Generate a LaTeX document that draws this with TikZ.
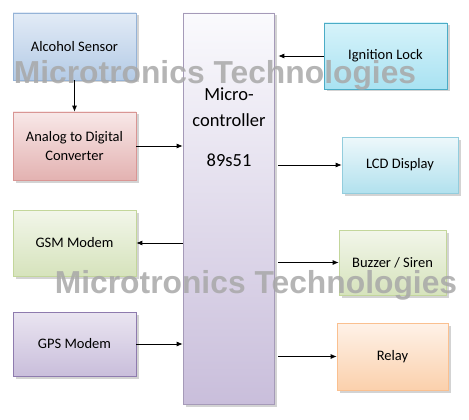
\documentclass[tikz,border=0pt]{standalone}
\usepackage{fontspec}
\setmainfont{Carlito}
\newfontfamily\wmfont{Liberation Sans}
\usetikzlibrary{arrows.meta,shadows}
\definecolor{alcT}{HTML}{E2EBF6}\definecolor{alcB}{HTML}{B4CBE6}\definecolor{alcD}{HTML}{95B3D7}
\definecolor{adcT}{HTML}{F8E8E8}\definecolor{adcB}{HTML}{E3B2B1}\definecolor{adcD}{HTML}{D99694}
\definecolor{gsmT}{HTML}{F2F6EA}\definecolor{gsmB}{HTML}{D6E3BC}\definecolor{gsmD}{HTML}{C3D69B}
\definecolor{gpsT}{HTML}{EAE5F1}\definecolor{gpsB}{HTML}{C9BEDB}\definecolor{gpsD}{HTML}{8E7BAE}
\definecolor{ignT}{HTML}{D6F3FA}\definecolor{ignB}{HTML}{A9E2F2}\definecolor{ignD}{HTML}{4BACC6}
\definecolor{lcdT}{HTML}{EDF8FB}\definecolor{lcdB}{HTML}{B2E1EE}\definecolor{lcdD}{HTML}{93CDDD}
\definecolor{relT}{HTML}{FEF2E8}\definecolor{relB}{HTML}{FBD0AC}\definecolor{relD}{HTML}{FAC090}
\definecolor{mcuT}{HTML}{FAFAFD}\definecolor{mcuB}{HTML}{C9BEDB}\definecolor{mcuD}{HTML}{A59AB8}
\definecolor{wmgray}{HTML}{A8A8A8}
\tikzset{
  blk/.style={draw=#1D, line width=0.7pt, top color=#1T, bottom color=#1B, inner sep=0pt,
    align=center, font=\fontsize{14.5}{19}\selectfont,
    drop shadow={opacity=0.35, shadow xshift=2.5pt, shadow yshift=-2.5pt}},
  arr/.style={-{Latex[length=6pt,width=5pt]}, line width=0.75pt, black},
  wm/.style={font=\wmfont\bfseries\fontsize{31.8}{36}\selectfont, text=wmgray, text opacity=0.85, anchor=base, inner sep=0pt},
  mtxt/.style={font=\fontsize{18.5}{20}\selectfont, anchor=base, inner sep=0pt}
}
\begin{document}
\begin{tikzpicture}[x=1pt,y=-1pt]
\useasboundingbox (0,0) rectangle (469,420);
\node[blk=alc, minimum width=123pt, minimum height=67pt] (alc) at (74.5,46.5) {Alcohol Sensor};
\node[blk=adc, minimum width=123pt, minimum height=68pt] (adc) at (74.5,146) {Analog to Digital\\Converter};
\node[blk=gsm, minimum width=123pt, minimum height=66pt] (gsm) at (74.5,243) {GSM Modem};
\node[blk=gps, minimum width=123pt, minimum height=64pt] (gps) at (74.5,344) {GPS Modem};
\node[blk=mcu, minimum width=91pt, minimum height=391pt] (mcu) at (228.5,208.5) {};
\node[blk=ign, minimum width=123pt, minimum height=66pt] (ign) at (385.5,56) {Ignition Lock};
\node[blk=lcd, minimum width=116pt, minimum height=56pt] (lcd) at (400,165) {LCD Display};
\node[blk=gsm, minimum width=107pt, minimum height=65pt] (buz) at (392.5,262.5) {Buzzer / Siren};
\node[blk=rel, minimum width=111pt, minimum height=67pt] (rel) at (392.5,356.5) {Relay};
\node[mtxt] (t1) at (229,100) {Micro-};
\node[mtxt] (t2) at (229,126) {controller};
\node[mtxt] (t3) at (229,166) {89s51};
\coordinate (me) at ([xshift=4pt]mcu.east);
\draw[arr] (alc.south) -- (adc.north);
\draw[arr] (adc.east) -- (mcu.west |- adc.east);
\draw[arr] (ign.west) -- (me |- ign.west);
\draw[arr] (me |- lcd.west) -- (lcd.west);
\draw[arr] (mcu.west |- gsm.east) -- (gsm.east);
\draw[arr] (gps.east) -- (mcu.west |- gps.east);
\draw[arr] (me |- buz.west) -- (buz.west);
\draw[arr] (me |- rel.west) -- (rel.west);
\node[wm] (wm1) at (215,84) {Microtronics Technologies};
\node[wm] (wm2) at (256,293) {Microtronics Technologies};
\end{tikzpicture}
\end{document}
